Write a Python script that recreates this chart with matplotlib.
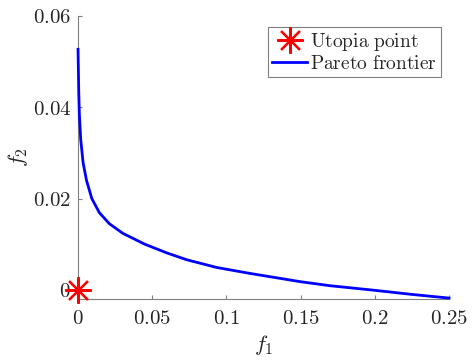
import matplotlib
matplotlib.use('Agg')
import matplotlib.pyplot as plt
from matplotlib.ticker import FixedLocator, FuncFormatter

plt.rcParams['mathtext.fontset'] = 'cm'
plt.rcParams['font.family'] = 'serif'

# values
f1_pareto = [0.0, 0.0002, 0.0005, 0.0009, 0.0018, 0.0034, 0.0057, 0.0093,
             0.0144, 0.0211, 0.0301, 0.0450, 0.0598, 0.0732, 0.0935,
             0.1159, 0.1496, 0.1700, 0.2000, 0.2250, 0.2500]
f2_pareto = [0.0527, 0.0490, 0.0432, 0.0385, 0.0330, 0.0279, 0.0240, 0.0200,
             0.0169, 0.0145, 0.0124, 0.0100, 0.0081, 0.0066, 0.0049,
             0.0036, 0.0018, 0.0009, -0.0001, -0.0010, -0.0018]
utopia = [0.0, 0.0]
x_ticks = [0, 0.05, 0.1, 0.15, 0.2, 0.25]
y_ticks = [0, 0.02, 0.04, 0.06]

axis_grey = '#808080'
text_dark = '#262626'

fig = plt.figure(figsize=(4.74, 3.64), dpi=100)
ax = fig.add_axes([0.1646, 0.1786, 0.7827, 0.7775])

ax.plot(utopia[0], utopia[1], linestyle='none', marker=(8, 2, 0),
        markersize=19, markeredgewidth=1.6, color='#ff0000',
        clip_on=False, zorder=4, label=r'$\mathrm{Utopia\ point}$')
ax.plot(f1_pareto, f2_pareto, color='#0000ff', linewidth=2.0,
        clip_on=False, zorder=3, label=r'$\mathrm{Pareto\ frontier}$',
        solid_joinstyle='round')

ax.set_xlim(0, 0.25)
ax.set_ylim(-0.002, 0.06)
ax.xaxis.set_major_locator(FixedLocator(x_ticks))
ax.yaxis.set_major_locator(FixedLocator(y_ticks))
fmt = FuncFormatter(lambda v, p: r'$\mathrm{%s}$' % ('%g' % v))
ax.xaxis.set_major_formatter(fmt)
ax.yaxis.set_major_formatter(fmt)

for side in ['top', 'right']:
    ax.spines[side].set_visible(False)
for side in ['left', 'bottom']:
    ax.spines[side].set_color(axis_grey)
    ax.spines[side].set_linewidth(0.8)

ax.tick_params(direction='in', length=3, width=0.8, color=axis_grey,
               labelcolor=text_dark, labelsize=15)
ax.tick_params(axis='x', pad=7)
ax.tick_params(axis='y', pad=5)

ax.set_xlabel(r'$f_1$', fontsize=16, color=text_dark, labelpad=4)
ax.set_ylabel(r'$f_2$', fontsize=16, color=text_dark, labelpad=2)

leg = ax.legend(loc='upper right', bbox_to_anchor=(0.978, 0.961),
                fontsize=14, frameon=True, fancybox=False, framealpha=1,
                edgecolor=axis_grey, handlelength=1.8, handletextpad=0.15,
                borderpad=0.2, labelspacing=0.1, borderaxespad=0)
leg.get_frame().set_linewidth(0.8)
for t in leg.get_texts():
    t.set_color(text_dark)

fig.savefig('out.png', dpi=100)
